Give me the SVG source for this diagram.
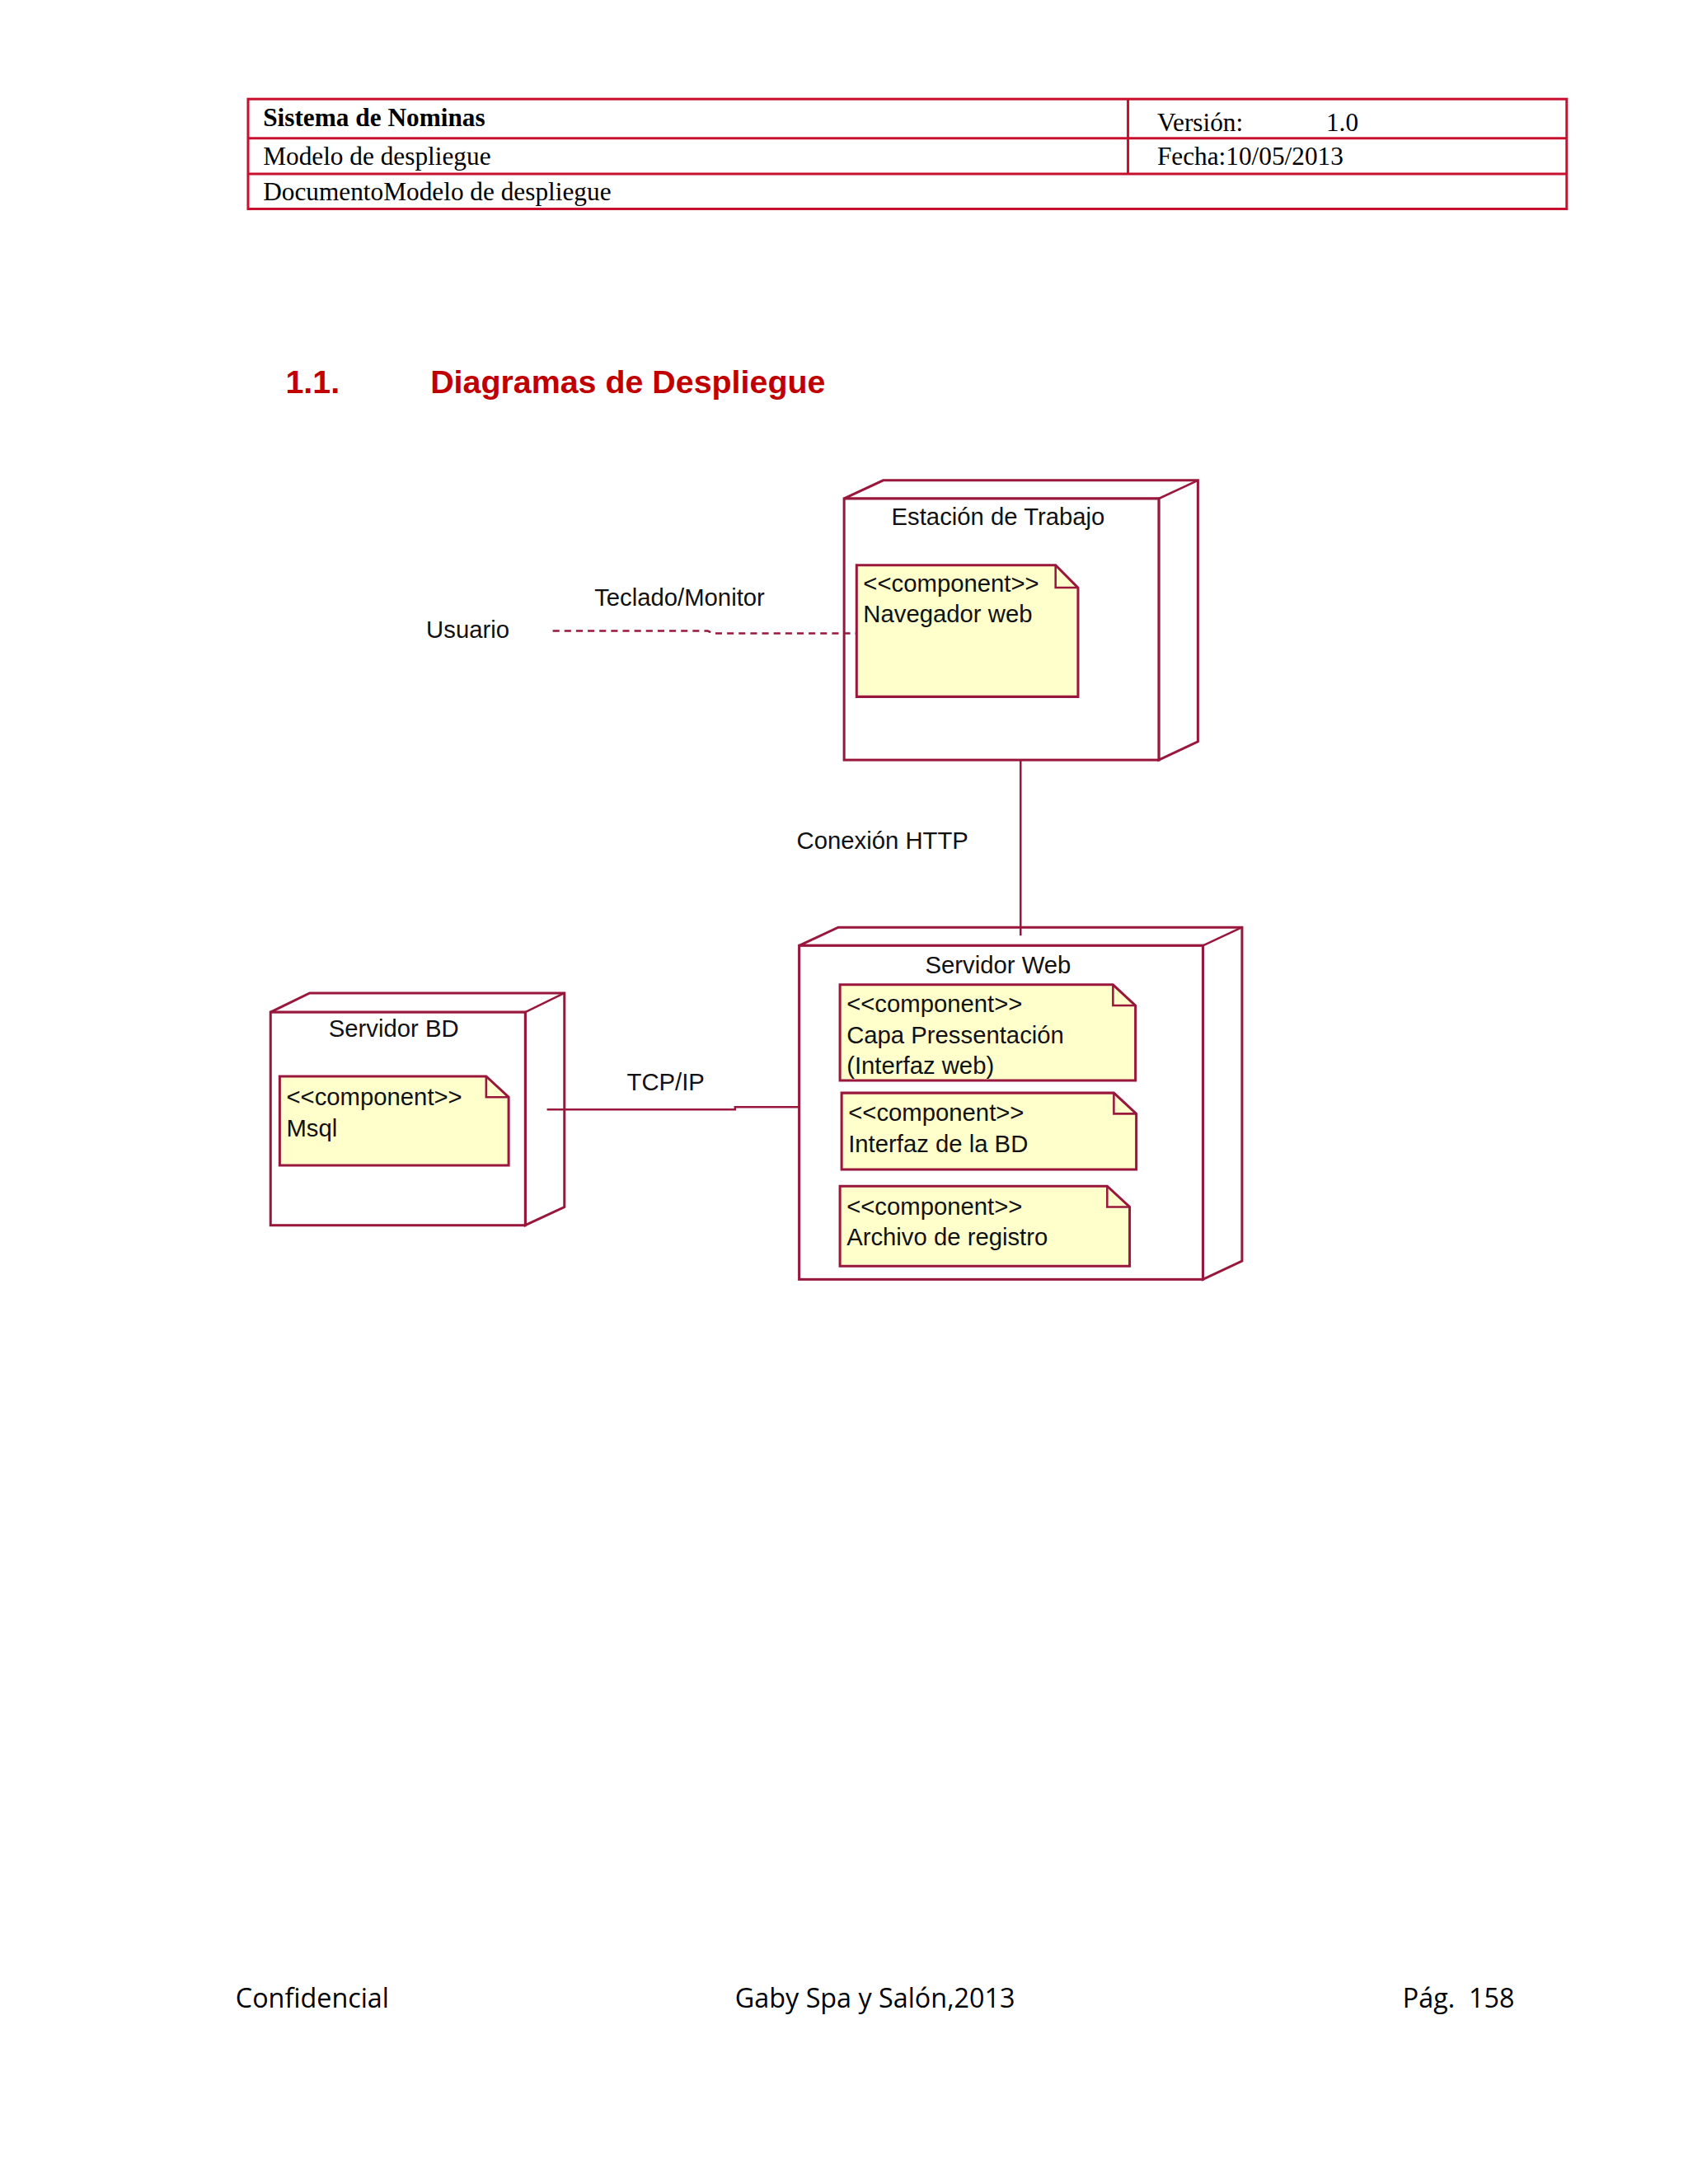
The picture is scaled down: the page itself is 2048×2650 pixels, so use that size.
<svg xmlns="http://www.w3.org/2000/svg" width="2048" height="2650" viewBox="0 0 2048 2650">
<style>
.tb{fill:none;stroke:#c8102e;stroke-width:3}
.tt{font-family:"Liberation Serif",serif;font-size:31px;fill:#000}
.nd{fill:#fff;stroke:#99173c;stroke-width:3}
.nt{fill:#ffffcc;stroke:#99173c;stroke-width:3}
.lb{font-family:"Liberation Sans",Arial,sans-serif;font-size:29px;fill:#111}
.cn{stroke:#99173c;stroke-width:2.5;fill:none}
.ft{font-family:"Open Sans","Liberation Sans",sans-serif;font-size:32px;fill:#000}
</style>
<rect width="2048" height="2650" fill="#fff"/>
<g transform="scale(1.01)">
<g id="header">
<rect class="tb" x="298" y="119" width="1584" height="132"/>
<line class="tb" x1="298" y1="166" x2="1882" y2="166"/>
<line class="tb" x1="298" y1="209" x2="1882" y2="209"/>
<line class="tb" x1="1355" y1="119" x2="1355" y2="209"/>
<text class="tt" x="316" y="151" font-weight="bold">Sistema de Nominas</text>
<text class="tt" x="1390" y="157">Versión:</text>
<text class="tt" x="1593" y="157">1.0</text>
<text class="tt" x="316" y="198">Modelo de despliegue</text>
<text class="tt" x="1390" y="198">Fecha:10/05/2013</text>
<text class="tt" x="316" y="241">DocumentoModelo de despliegue</text>
</g>
<g id="heading" font-family="Liberation Sans,Arial,sans-serif" font-weight="bold" font-size="39" fill="#c00000">
<text x="343" y="472">1.1.</text>
<text x="517" y="472">Diagramas de Despliegue</text>
</g>
<g id="estacion">
<polygon class="nd" points="1014,599 1061,577 1439,577 1439,891 1392,913 1392,599"/>
<line class="cn" x1="1392" y1="599" x2="1439" y2="577"/>
<rect class="nd" x="1014" y="599" width="378" height="314"/>
<text class="lb" x="1199" y="631" text-anchor="middle">Estación de Trabajo</text>
<path class="nt" d="M1029 679 L1268 679 L1295 706 L1295 837 L1029 837 Z"/>
<path class="cn" d="M1268 679 L1268 706 L1295 706"/>
<text class="lb" x="1037" y="711">&lt;&lt;component&gt;&gt;</text>
<text class="lb" x="1037" y="748">Navegador web</text>
</g>
<g id="servidorweb">
<polygon class="nd" points="960,1136 1007,1114 1492,1114 1492,1515 1445,1537 1445,1136"/>
<line class="cn" x1="1445" y1="1136" x2="1492" y2="1114"/>
<rect class="nd" x="960" y="1136" width="485" height="401"/>
<text class="lb" x="1199" y="1169" text-anchor="middle">Servidor Web</text>
<path class="nt" d="M1009 1183 L1337 1183 L1364 1208 L1364 1298 L1009 1298 Z"/>
<path class="cn" d="M1337 1183 L1337 1208 L1364 1208"/>
<text class="lb" x="1017" y="1216">&lt;&lt;component&gt;&gt;</text>
<text class="lb" x="1017" y="1253">Capa Pressentación</text>
<text class="lb" x="1017" y="1290">(Interfaz web)</text>
<path class="nt" d="M1011 1313 L1338 1313 L1365 1338 L1365 1405 L1011 1405 Z"/>
<path class="cn" d="M1338 1313 L1338 1338 L1365 1338"/>
<text class="lb" x="1019" y="1347">&lt;&lt;component&gt;&gt;</text>
<text class="lb" x="1019" y="1384">Interfaz de la BD</text>
<path class="nt" d="M1009 1425 L1330 1425 L1357 1450 L1357 1521 L1009 1521 Z"/>
<path class="cn" d="M1330 1425 L1330 1450 L1357 1450"/>
<text class="lb" x="1017" y="1459">&lt;&lt;component&gt;&gt;</text>
<text class="lb" x="1017" y="1496">Archivo de registro</text>
</g>
<g id="servidorbd">
<polygon class="nd" points="325,1216 372,1193 678,1193 678,1450 631,1472 631,1216"/>
<line class="cn" x1="631" y1="1216" x2="678" y2="1193"/>
<rect class="nd" x="325" y="1216" width="306" height="256"/>
<text class="lb" x="473" y="1246" text-anchor="middle">Servidor BD</text>
<path class="nt" d="M336 1293 L584 1293 L611 1318 L611 1400 L336 1400 Z"/>
<path class="cn" d="M584 1293 L584 1318 L611 1318"/>
<text class="lb" x="344" y="1328">&lt;&lt;component&gt;&gt;</text>
<text class="lb" x="344" y="1365">Msql</text>
</g>
<g id="connectors">
<path class="cn" d="M664 758 L850 758 L857 761 L1029 761" stroke-dasharray="8,6"/>
<line class="cn" x1="1226" y1="913" x2="1226" y2="1124"/>
<path class="cn" d="M657 1333 L883 1333 L883 1330 L960 1330"/>
<text class="lb" x="512" y="766">Usuario</text>
<text class="lb" x="714" y="728">Teclado/Monitor</text>
<text class="lb" x="957" y="1020">Conexión HTTP</text>
<text class="lb" x="753" y="1310">TCP/IP</text>
</g>
<g id="footer">
<text class="ft" x="283" y="2412">Confidencial</text>
<text class="ft" x="883" y="2412">Gaby Spa y Salón,2013</text>
<text class="ft" x="1685" y="2412" xml:space="preserve">Pág.  158</text>
</g>
</g>
</svg>
